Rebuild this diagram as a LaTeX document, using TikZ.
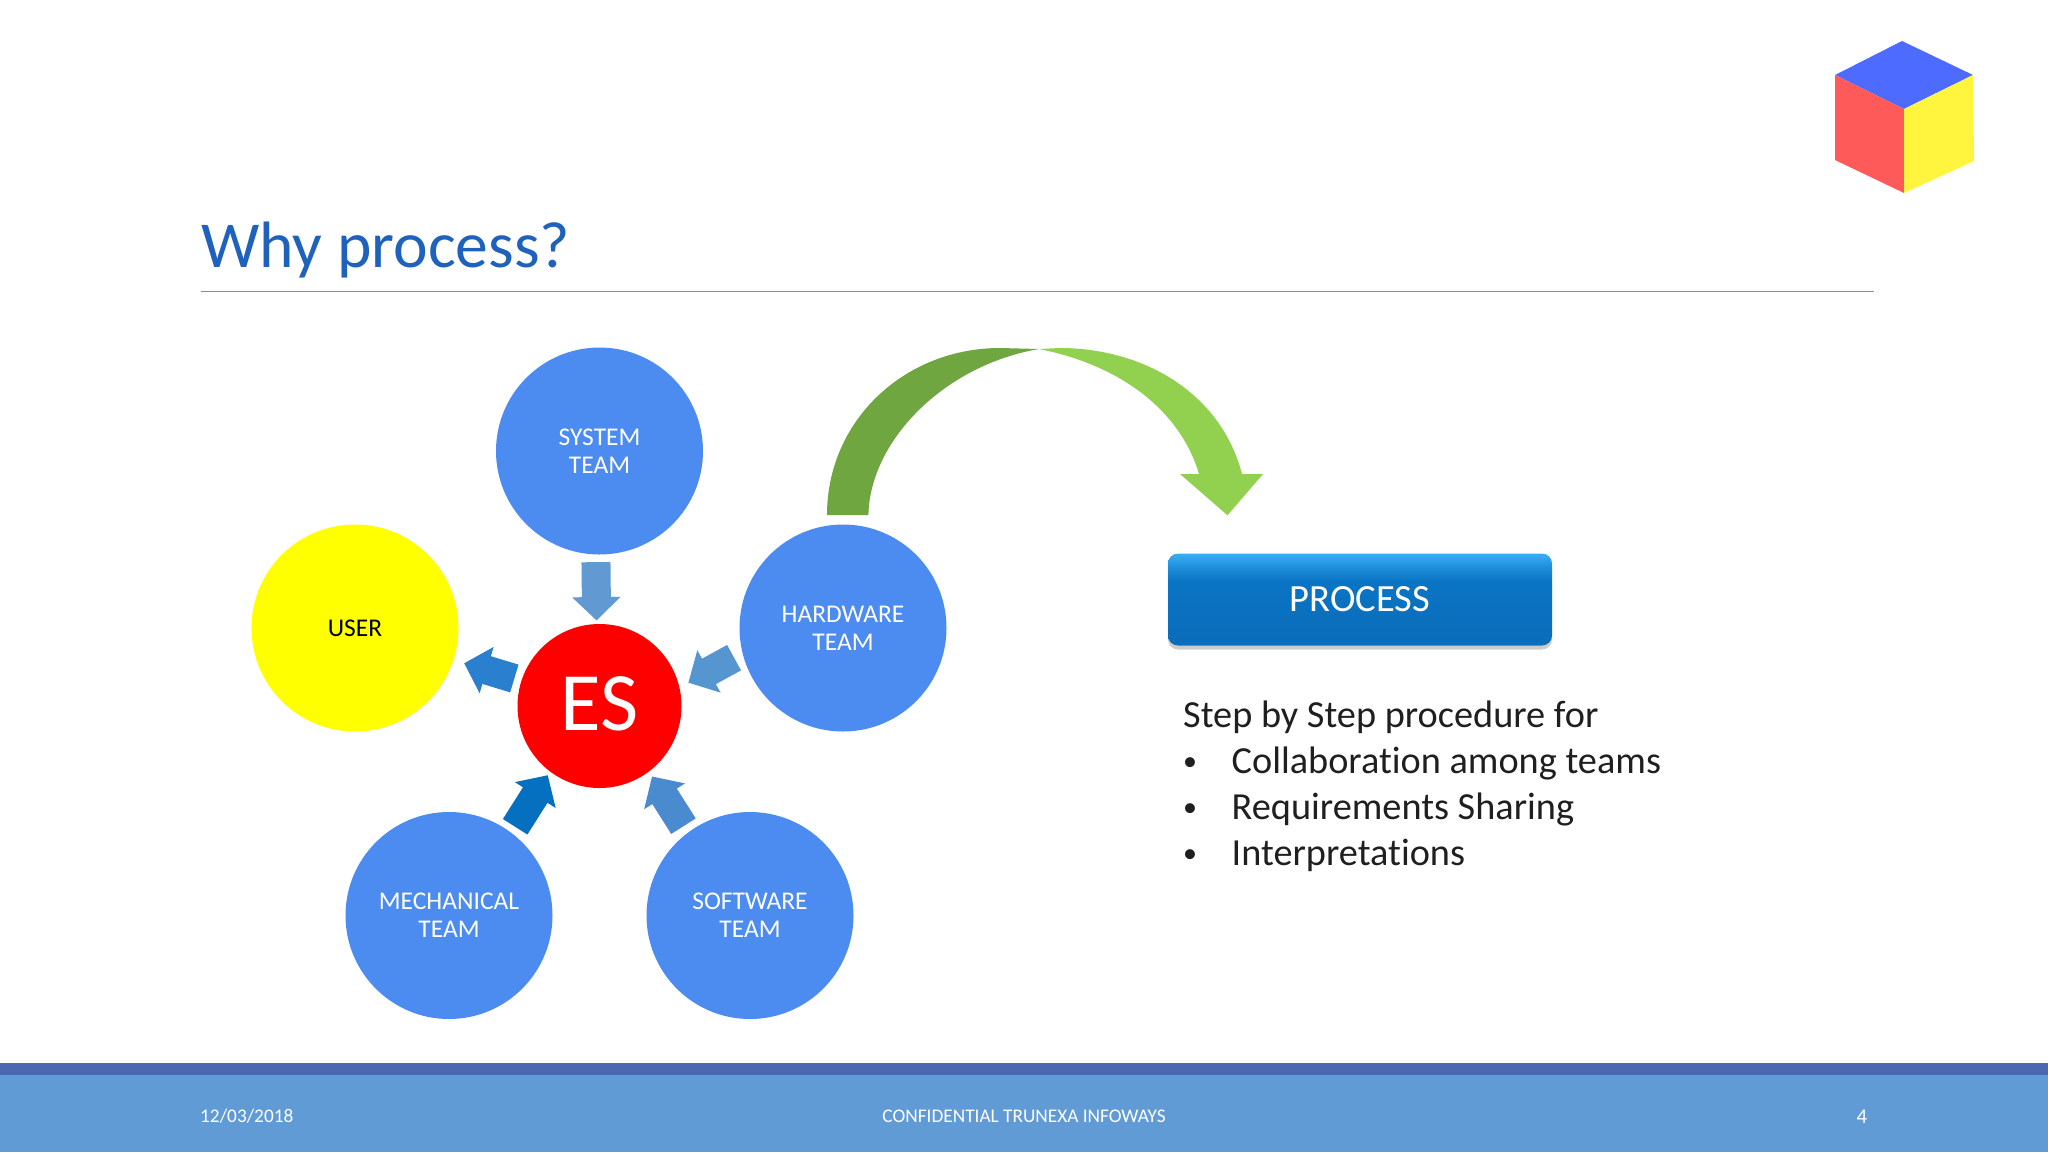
\documentclass[tikz,border=0pt]{standalone}
\usepackage{fontspec}
\setmainfont[Ligatures=NoCommon]{Carlito}
\usetikzlibrary{arrows.meta,shadows}
\definecolor{teamblue}{HTML}{4C8BF0}
\definecolor{userfill}{HTML}{FFFF00}
\definecolor{hubfill}{HTML}{FF0000}
\definecolor{titleblue}{HTML}{1F62BC}
\definecolor{footdark}{HTML}{4D67B0}
\definecolor{footlight}{HTML}{619BD5}
\definecolor{leafdark}{HTML}{70A63F}
\definecolor{leaflight}{HTML}{92D050}
\definecolor{cubeblue}{HTML}{4D6BFF}
\definecolor{cubered}{HTML}{FF5A5A}
\definecolor{cubeyellow}{HTML}{FFF53F}
\definecolor{sysarrow}{HTML}{6199D2}
\definecolor{hwarrow}{HTML}{5595D0}
\definecolor{softarrow}{HTML}{4A8ACF}
\definecolor{mecharrow}{HTML}{0570C0}
\definecolor{userarrow}{HTML}{2A7FCF}
\definecolor{processa}{HTML}{0A6DBA}
\definecolor{processb}{HTML}{0A74C4}
\definecolor{processc}{HTML}{1E8CD8}
\definecolor{processd}{HTML}{3AAEF5}
\pgfdeclareverticalshading{processfill}{100bp}{color(0bp)=(processa);color(25bp)=(processb);color(27bp)=(processa);color(60bp)=(processb);color(67bp)=(processc);color(75bp)=(processd);color(100bp)=(processd)}
\begin{document}
\begin{tikzpicture}[x=1pt,y=-1pt]
    \tikzstyle{team}=[circle,fill=teamblue,text=white,minimum size=207pt,inner sep=0pt,align=center,font=\fontsize{25.5}{28}\selectfont]
    \tikzstyle{hub}=[circle,fill=hubfill,text=white,minimum size=164pt,inner sep=0pt,text height=48pt,text depth=0pt,font=\fontsize{83}{90}\selectfont]
    \tikzstyle{block}=[line width=29pt,-{Triangle[width=47pt,length=23.5pt]}]
    \tikzstyle{bodyline}=[anchor=base west,inner sep=0pt,text=black!88,font=\fontsize{38.3}{44}\selectfont]
    \tikzstyle{footer}=[inner sep=0pt,text=white,font=\fontsize{19.3}{22}\selectfont]
    \useasboundingbox (0,0) rectangle (2048,1152);

    % footer band
    \fill[footlight] (0,1075) rectangle (2048,1152);
    \fill[footdark] (0,1063) rectangle (2048,1075);

    % logo cube
    \fill[cubeblue] (1902,41) -- (1973,75) -- (1904,109) -- (1835,75) -- cycle;
    \fill[cubered] (1835,75) -- (1904,109) -- (1904,193) -- (1835,160) -- cycle;
    \fill[cubeyellow] (1973,75) -- (1904,109) -- (1904,193) -- (1974,161) -- cycle;

    % title
    \node[anchor=base west,inner sep=0pt,text=titleblue,font=\fontsize{65.6}{70}\selectfont] (title) at (201,267) {Why process?};
    \coordinate (rule-a) at (201,291);
    \coordinate (rule-b) at (1874,291);
    \draw[black!45,line width=1pt] (rule-a) -- (rule-b);

    \foreach \name/\x/\y/\txt in {sys/599.5/451/SYSTEM\\TEAM, hw/843/628/HARDWARE\\TEAM, mech/449/915.5/MECHANICAL\\TEAM, soft/750/915.5/SOFTWARE\\TEAM}
            \node[team] (\name) at (\x,\y) {\txt};
    \node[team,fill=userfill,text=black] (user) at (355,628) {USER};
    \node[hub] (es) at (599.5,706) {ES};

    \draw[block,draw=sysarrow,shorten <=7.5pt,shorten >=3.3pt] (sys.268) -- (es.92);
    \draw[block,draw=hwarrow,shorten <=9.5pt,shorten >=10pt] (hw.194) -- (es.13);
    \draw[block,draw=softarrow,shorten <=7.7pt,shorten >=5.7pt] (soft.127) -- (es.307);
    \draw[block,draw=mecharrow,shorten <=7pt,shorten >=4.2pt] (mech.53) -- (es.233);
    \draw[block,draw=userarrow,shorten <=7.3pt,shorten >=11pt] (es.162) -- (user.342);

    % curved arrow
    \fill[leafdark] (827,515) .. controls (827,420) and (905,348) .. (1000,348) -- (1039,349) .. controls (945,365) and (870,440) .. (868.4,515) -- cycle;
    \fill[leaflight] (1039,349) -- (1060,348) .. controls (1140,348) and (1220,390) .. (1242,474) -- (1263,474) -- (1227.5,515.3) -- (1180,474) -- (1199,474) .. controls (1180,410) and (1120,365) .. (1039,349) -- cycle;

    \node[rounded corners=10pt,minimum width=384pt,minimum height=92pt,inner sep=0pt,text height=24.6pt,text depth=0pt,shading=processfill,text=white,font=\fontsize{38.5}{44}\selectfont,drop shadow={shadow xshift=0pt,shadow yshift=-4pt,fill=black,opacity=.2}] (process) at (1360,599.5) {PROCESS};

    \node[bodyline] (step) at (1183,727.5) {Step by Step procedure for};
    \foreach \num/\y/\txt in {1/773.5/Collaboration among teams, 2/819.5/Requirements Sharing, 3/865.5/Interpretations}
    {
            \node[bodyline,font=\fontsize{28}{30}\selectfont] (dot-\num) at (1183,\y) {\raisebox{3pt}{\textbullet}};
            \node[bodyline] (item-\num) at (1231.5,\y) {\txt};
    }

    \node[footer,anchor=west] (date) at (200,1116.5) {12/03/2018};
    \node[footer] (conf) at (1024,1116.5) {CONFIDENTIAL TRUNEXA INFOWAYS};
    \node[footer,anchor=east,font=\fontsize{21}{24}\selectfont] (page) at (1867.5,1116.5) {4};
\end{tikzpicture}
\end{document}
